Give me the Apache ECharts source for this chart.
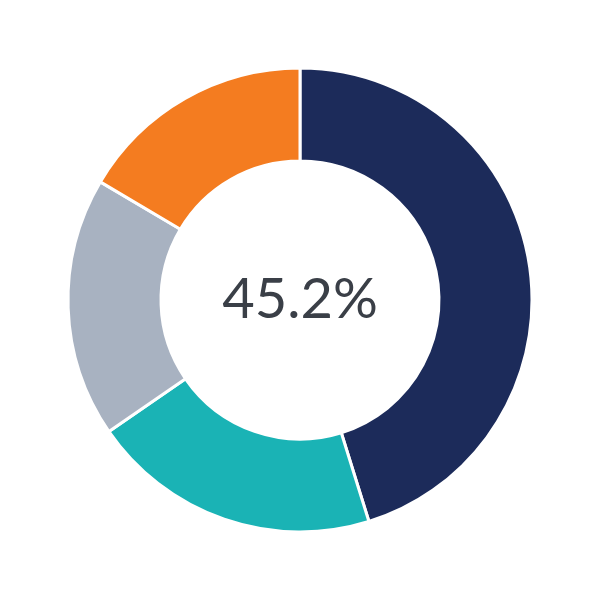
<!DOCTYPE html>
<html><head><meta charset="utf-8">
<script src="https://cdn.jsdelivr.net/npm/echarts@6/dist/echarts.min.js"></script>
<style>html,body{margin:0;padding:0;background:#fff}#c{width:600px;height:600px}</style>
</head><body><div id="c"></div>
<script>
const categories = ['A', 'B', 'C', 'D'];
const values = [45.2, 20.2, 18.1, 16.5];
const colors = ['#1c2b5a', '#1ab3b5', '#a8b2c1', '#f47c20'];
const centerLabel = '45.2%';

const chart = echarts.init(document.getElementById('c'));
chart.setOption({
  animation: false,
  title: {
    text: centerLabel,
    left: 'center', top: 'middle',
    textStyle: { fontFamily: 'Lato', fontWeight: 'normal', fontSize: 56, color: '#3a3f47' }
  },
  series: [{
    type: 'pie',
    center: ['50%', '50%'],
    radius: [139, 232],
    startAngle: 90,
    clockwise: true,
    label: { show: false },
    labelLine: { show: false },
    itemStyle: { borderColor: '#fff', borderWidth: 3 },
    data: categories.map((c, i) => ({ name: c, value: values[i], itemStyle: { color: colors[i] } }))
  }]
});
</script></body></html>
